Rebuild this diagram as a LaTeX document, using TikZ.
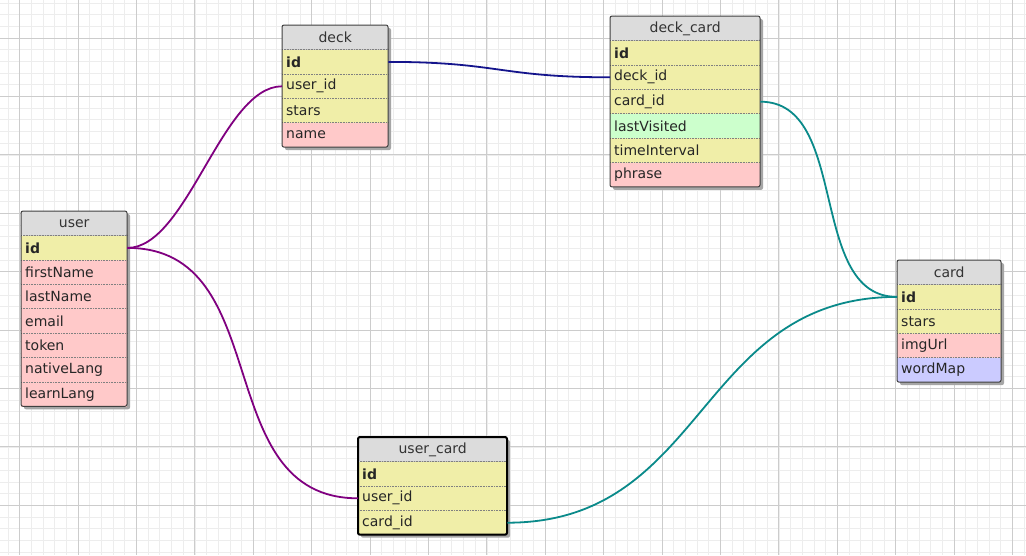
\documentclass[tikz,border=0pt]{standalone}
\usepackage{fontspec}
\setmainfont{DejaVu Sans}
\usetikzlibrary{shadows}
\definecolor{ky}{HTML}{F0EEA8}
\definecolor{kp}{HTML}{FFC9C9}
\definecolor{kg}{HTML}{CCFFCC}
\definecolor{kb}{HTML}{CBCBFF}
\definecolor{kh}{HTML}{DCDCDC}
\definecolor{purp}{HTML}{800080}
\definecolor{navyc}{HTML}{14148C}
\definecolor{tealc}{HTML}{0A8A8A}
\tikzset{
 rowbox/.style={minimum height=24.4pt, text width=#1, inner xsep=4pt, inner ysep=0pt, anchor=north west, align=left, font=\fontsize{14}{15}\selectfont, text=black!85},
 headbox/.style={minimum height=24.5pt, minimum width=#1, inner sep=0pt, anchor=north west, font=\fontsize{14}{15}\selectfont, text=black!80},
 sep/.style={gray, densely dotted, line width=0.6pt},
 frame/.style={draw=black!75, line width=1pt, rounded corners=2pt},
 link/.style={line width=1.8pt}
}
\newcommand\tbl[7]{%
 \path[fill=black!35, rounded corners=2pt] (#2+3,#3+3) rectangle ++(#4,24.5+24.4*#6);
 \path[fill=kh, rounded corners=2pt] (#2,#3) rectangle ++(#4,24.5);
 \node[headbox=#4pt] (#1-h) at (#2,#3) {#5};
 \foreach \c/\t [count=\i] in {#7} {
   \node[rowbox=#4pt-8pt, fill=\c] (#1-\i) at (#2,#3+24.5+24.4*\i-24.4) {\t};
   \draw[sep] (#1-\i.north west) -- (#1-\i.north east);
 }
 \draw[frame] (#2,#3) rectangle ++(#4,24.5+24.4*#6);
}
\begin{document}
\begin{tikzpicture}[x=1pt,y=-1pt]
\useasboundingbox (0,0) rectangle (1026,555);
\fill[white] (0,0) rectangle (1026,555);
\foreach \k in {0,...,90} {\draw[black!7, line width=0.6pt] ({19.6+11.68*(\k-1)},0) -- ++(0,555);}
\foreach \k in {0,...,50} {\draw[black!7, line width=0.6pt] (0,{38-11.68*4+11.68*\k}) -- ++(1026,0);}
\foreach \k in {0,...,18} {\draw[black!20, line width=1pt] ({19.6+58.4*\k},0) -- ++(0,555);}
\foreach \k in {0,...,9} {\draw[black!20, line width=1pt] (0,{38-58.4+58.4*\k}) -- ++(1026,0);}

\tbl{user}{21}{211}{106}{user}{7}{ky/\textbf{id},kp/firstName,kp/lastName,kp/email,kp/token,kp/nativeLang,kp/learnLang}
\tbl{deck}{282}{25}{106}{deck}{4}{ky/\textbf{id},ky/user\_id,ky/stars,kp/name}
\tbl{dc}{610}{16}{150}{deck\_card}{6}{ky/\textbf{id},ky/deck\_id,ky/card\_id,kg/lastVisited,ky/timeInterval,kp/phrase}
\tbl{card}{897}{260}{104}{card}{4}{ky/\textbf{id},ky/stars,kp/imgUrl,kb/wordMap}
\tbl{uc}{358}{437}{149}{user\_card}{3}{ky/\textbf{id},ky/user\_id,ky/card\_id}
\draw[black, line width=2pt, rounded corners=2pt] (358,437) rectangle ++(149,24.5+24.4*3);

\draw[link, purp] (user-1.east) .. controls +(60,0) and +(-60,0) .. (deck-2.west);
\draw[link, purp] (user-1.east) .. controls +(150,0) and +(-150,0) .. (uc-2.west);
\draw[link, navyc] (deck-1.east) .. controls +(110,0) and +(-110,0) .. (dc-2.west);
\draw[link, tealc] (dc-3.east) .. controls +(90,0) and +(-90,0) .. (card-1.west);
\draw[link, tealc] (uc-3.east) .. controls +(200,0) and +(-200,0) .. (card-1.west);
\end{tikzpicture}
\end{document}
